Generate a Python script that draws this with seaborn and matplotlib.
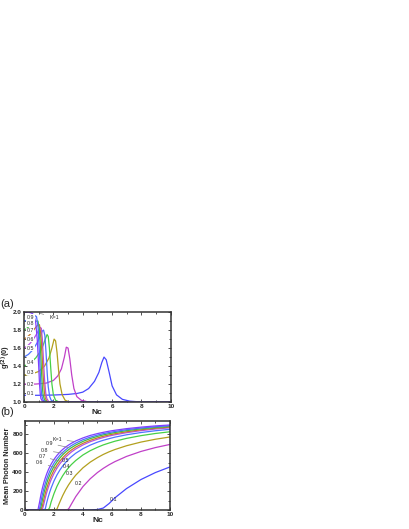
import numpy as np
import pandas as pd

import seaborn as sns
import matplotlib
matplotlib.use('Agg')
import matplotlib.pyplot as plt
from matplotlib.ticker import MultipleLocator

# ---- panel (a): g2(0) vs Nc, one curve per coupling K ----
k_labels = ['K=1', '0.9', '0.8', '0.7', '0.6', '0.5', '0.4', '0.3', '0.2', '0.1']
colors = ['#7f3fff', '#4f6fff', '#3fbf3f', '#c8782a', '#b54fe6',
          '#4d74ff', '#46d046', '#b3a01e', '#c040c8', '#4848ff']

nc_a_k10 = [0, 0.3, 0.5, 0.6, 0.7, 0.8, 0.9, 1.0, 1.05, 1.1, 1.15, 1.25, 1.5, 2, 10]
g2_k10 = [2.0, 2.0, 1.99, 1.98, 1.95, 1.88, 1.7, 1.4, 1.22, 1.1, 1.04, 1.01, 1.0, 1.0, 1.0]
nc_a_k09 = [0, 0.2, 0.4, 0.6, 0.75, 0.85, 0.95, 1.05, 1.1, 1.15, 1.2, 1.3, 1.5, 2, 10]
g2_k09 = [1.9, 1.91, 1.93, 1.95, 1.96, 1.95, 1.85, 1.55, 1.35, 1.18, 1.08, 1.02, 1.0, 1.0, 1.0]
nc_a_k08 = [0, 0.2, 0.4, 0.6, 0.8, 0.95, 1.05, 1.12, 1.18, 1.25, 1.3, 1.4, 1.6, 2, 10]
g2_k08 = [1.8, 1.82, 1.85, 1.88, 1.9, 1.9, 1.8, 1.6, 1.38, 1.16, 1.08, 1.02, 1.0, 1.0, 1.0]
nc_a_k07 = [0, 0.2, 0.4, 0.6, 0.8, 0.95, 1.05, 1.15, 1.22, 1.3, 1.38, 1.45, 1.6, 2, 10]
g2_k07 = [1.7, 1.72, 1.75, 1.79, 1.83, 1.86, 1.86, 1.75, 1.55, 1.3, 1.12, 1.04, 1.0, 1.0, 1.0]
nc_a_k06 = [0, 0.2, 0.4, 0.6, 0.8, 1.0, 1.1, 1.18, 1.25, 1.33, 1.4, 1.48, 1.55, 1.7, 2, 10]
g2_k06 = [1.6, 1.62, 1.65, 1.69, 1.74, 1.8, 1.83, 1.82, 1.7, 1.45, 1.25, 1.1, 1.04, 1.0, 1.0, 1.0]
nc_a_k05 = [0, 0.3, 0.6, 0.9, 1.1, 1.25, 1.33, 1.42, 1.5, 1.58, 1.65, 1.75, 1.85, 2.1, 10]
g2_k05 = [1.5, 1.53, 1.58, 1.66, 1.73, 1.79, 1.80, 1.74, 1.55, 1.32, 1.17, 1.06, 1.02, 1.0, 1.0]
nc_a_k04 = [0, 0.4, 0.8, 1.1, 1.3, 1.45, 1.57, 1.65, 1.73, 1.82, 1.9, 2.0, 2.15, 2.4, 10]
g2_k04 = [1.4, 1.43, 1.49, 1.56, 1.63, 1.70, 1.75, 1.73, 1.6, 1.38, 1.2, 1.08, 1.02, 1.0, 1.0]
nc_a_k03 = [0, 0.5, 1.0, 1.4, 1.7, 1.9, 2.05, 2.15, 2.25, 2.35, 2.45, 2.6, 2.8, 3.1, 10]
g2_k03 = [1.3, 1.31, 1.34, 1.40, 1.49, 1.60, 1.70, 1.68, 1.55, 1.36, 1.2, 1.08, 1.02, 1.0, 1.0]
nc_a_k02 = [0, 0.8, 1.5, 2.0, 2.3, 2.55, 2.75, 2.88, 3.0, 3.12, 3.25, 3.4, 3.6, 3.9, 4.4, 10]
g2_k02 = [1.2, 1.2, 1.21, 1.24, 1.29, 1.37, 1.50, 1.61, 1.60, 1.48, 1.3, 1.15, 1.06, 1.02, 1.0, 1.0]
nc_a_k01 = [0, 1, 2, 3, 3.6, 4.0, 4.4, 4.8, 5.1, 5.3, 5.45, 5.6, 5.8, 6.0, 6.3, 6.7, 7.2, 8, 10]
g2_k01 = [1.075, 1.075, 1.078, 1.085, 1.095, 1.11, 1.15, 1.23, 1.33, 1.44, 1.50, 1.47,
          1.33, 1.18, 1.08, 1.03, 1.01, 1.0, 1.0]

# ---- panel (b): mean photon number vs Nc ----
nc_b = [0, 0.5, 0.8, 0.9, 1.0, 1.1, 1.2, 1.3, 1.4, 1.5, 1.6, 1.7, 1.8, 2.0, 2.2, 2.4,
        2.6, 2.8, 3.0, 3.2, 3.5, 4.0, 4.5, 5.0, 5.4, 5.8, 6.2, 7.0, 8.0, 9.0, 10.0]
n_k10 = [0, 0, 0, 5, 79, 162, 231, 289, 339, 383, 421, 454, 484, 535, 576, 611,
         640, 665, 686, 705, 730, 762, 788, 808, 821, 833, 843, 860, 876, 889, 899]
n_k09 = [0, 0, 0, 0, 8, 90, 165, 228, 283, 330, 371, 408, 440, 495, 540, 578,
         609, 636, 660, 681, 707, 743, 770, 792, 807, 819, 830, 849, 866, 880, 891]
n_k08 = [0, 0, 0, 0, 0, 30, 107, 175, 233, 284, 328, 367, 401, 460, 508, 549,
         583, 612, 637, 659, 687, 725, 755, 778, 794, 807, 819, 839, 858, 872, 884]
n_k07 = [0, 0, 0, 0, 0, 3, 41, 114, 177, 231, 278, 320, 358, 421, 473, 516,
         552, 583, 611, 634, 665, 705, 737, 762, 779, 794, 806, 827, 848, 864, 876]
n_k06 = [0, 0, 0, 0, 0, 0, 5, 61, 127, 185, 235, 280, 319, 386, 441, 487,
         525, 559, 587, 613, 645, 688, 722, 748, 766, 782, 795, 817, 839, 856, 869]
n_k05 = [0, 0, 0, 0, 0, 0, 0, 0, 12, 79, 136, 186, 231, 307, 369, 421,
         465, 502, 535, 563, 600, 648, 686, 717, 737, 754, 770, 795, 819, 838, 853]
n_k04 = [0, 0, 0, 0, 0, 0, 0, 0, 0, 0, 0, 25, 83, 173, 248, 309,
         362, 407, 446, 480, 523, 582, 627, 663, 688, 708, 727, 757, 786, 809, 827]
n_k03 = [0, 0, 0, 0, 0, 0, 0, 0, 0, 0, 0, 0, 0, 0, 8, 83,
         152, 212, 264, 309, 368, 446, 506, 554, 587, 615, 639, 679, 718, 748, 772]
n_k02 = [0, 0, 0, 0, 0, 0, 0, 0, 0, 0, 0, 0, 0, 0, 0, 0,
         0, 0, 8, 62, 141, 248, 330, 396, 440, 478, 511, 566, 619, 660, 693]
n_k01 = [0, 0, 0, 0, 0, 0, 0, 0, 0, 0, 0, 0, 0, 0, 0, 0,
         0, 0, 0, 0, 0, 0, 0, 5, 20, 68, 128, 226, 322, 396, 455]

# label spots
lab_a_x = [1.75, 0.42, 0.42, 0.42, 0.42, 0.42, 0.42, 0.42, 0.42, 0.42]
lab_a_y = [1.94, 1.94, 1.87, 1.79, 1.70, 1.60, 1.44, 1.33, 1.20, 1.09]
lab_b_x = [2.25, 1.7, 1.38, 1.17, 1.03, 2.76, 2.83, 3.1, 3.72, 6.1]
lab_b_y = [750, 705, 630, 565, 500, 523, 459, 384, 277, 107]
lead_b_x = [3.4, 3.0, 2.7, 2.4, 2.2]
lead_b_y = [724, 660, 598, 516, 441]

sns.set_style('ticks')
plt.rcParams['font.family'] = ['Liberation Sans', 'DejaVu Sans']
plt.rcParams['axes.linewidth'] = 1.1
plt.rcParams['axes.edgecolor'] = '#333333'

fig = plt.figure(figsize=(4.09, 5.29), dpi=100)
ax_a = fig.add_axes([0.0587, 0.240, 0.359, 0.170])
ax_b = fig.add_axes([0.0611, 0.036, 0.3545, 0.168])

curves_a = [(nc_a_k10, g2_k10), (nc_a_k09, g2_k09), (nc_a_k08, g2_k08), (nc_a_k07, g2_k07),
            (nc_a_k06, g2_k06), (nc_a_k05, g2_k05), (nc_a_k04, g2_k04), (nc_a_k03, g2_k03),
            (nc_a_k02, g2_k02), (nc_a_k01, g2_k01)]
curves_b = [n_k10, n_k09, n_k08, n_k07, n_k06, n_k05, n_k04, n_k03, n_k02, n_k01]

for (xs, ys), col in zip(curves_a[::-1], colors[::-1]):
    sns.lineplot(x=xs, y=ys, color=col, lw=0.9, ax=ax_a, sort=False)
for ys, col in zip(curves_b[::-1], colors[::-1]):
    sns.lineplot(x=nc_b, y=ys, color=col, lw=0.9, ax=ax_b, sort=False)

# panel (a) labels
for i, lab in enumerate(k_labels):
    if i == 0:
        ax_a.annotate(lab, xy=(0.9, 1.995), xytext=(lab_a_x[i], lab_a_y[i]),
                      fontsize=3.8, va='center', ha='left',
                      arrowprops=dict(arrowstyle='-', color='#888888', lw=0.5))
    else:
        ax_a.text(lab_a_x[i], lab_a_y[i], lab, fontsize=3.8, ha='center', va='center',
                  bbox=dict(fc='white', ec='none', pad=0.4), zorder=5)

# panel (b) labels
for i, lab in enumerate(k_labels):
    if i < 5:
        ax_b.annotate(lab, xy=(lead_b_x[i], lead_b_y[i]), xytext=(lab_b_x[i], lab_b_y[i]),
                      fontsize=3.8, va='center', ha='center',
                      arrowprops=dict(arrowstyle='-', color='#888888', lw=0.5,
                                      shrinkA=1, shrinkB=0))
    else:
        ax_b.text(lab_b_x[i], lab_b_y[i], lab, fontsize=3.8, ha='center', va='center')

for ax in (ax_a, ax_b):
    ax.set_xlim(0, 10)
    ax.xaxis.set_major_locator(MultipleLocator(2))
    ax.xaxis.set_minor_locator(MultipleLocator(1))
    ax.tick_params(which='both', direction='in', top=True, right=True,
                   labelsize=4.6, pad=1.5, width=0.6, color='#333333')
    ax.tick_params(which='major', length=2.5)
    ax.tick_params(which='minor', length=1.5)
    for t in ax.get_xticklabels() + ax.get_yticklabels():
        t.set_fontweight('bold')
    ax.set_xlabel('Nc', fontsize=6, fontweight='bold', labelpad=0)

ax_a.set_ylim(1.0, 2.0)
ax_a.yaxis.set_major_locator(MultipleLocator(0.2))
ax_a.yaxis.set_minor_locator(MultipleLocator(0.1))
ax_a.set_yticks([1.0, 1.2, 1.4, 1.6, 1.8, 2.0])
ax_a.set_yticklabels(['1.0', '1.2', '1.4', '1.6', '1.8', '2.0'], fontweight='bold')
ax_a.set_ylabel('g$^{\\mathbf{(2)}}$(0)', fontsize=5.3, fontweight='bold', va='center')
ax_a.yaxis.set_label_coords(-0.122, 0.5)

ax_b.set_ylim(0, 940)
ax_b.yaxis.set_major_locator(MultipleLocator(200))
ax_b.yaxis.set_minor_locator(MultipleLocator(100))
ax_b.set_yticks([0, 200, 400, 600, 800])
ax_b.set_yticklabels(['0', '200', '400', '600', '800'], fontweight='bold')
ax_b.set_ylabel('Mean Photon Number', fontsize=5.3, fontweight='bold', va='center')
ax_b.yaxis.set_label_coords(-0.12, 0.5)

fig.text(0.0, 0.425, '(a)', fontsize=8, va='center', ha='left')
fig.text(0.0, 0.222, '(b)', fontsize=8, va='center', ha='left')

plt.savefig('out.png', dpi=100)
